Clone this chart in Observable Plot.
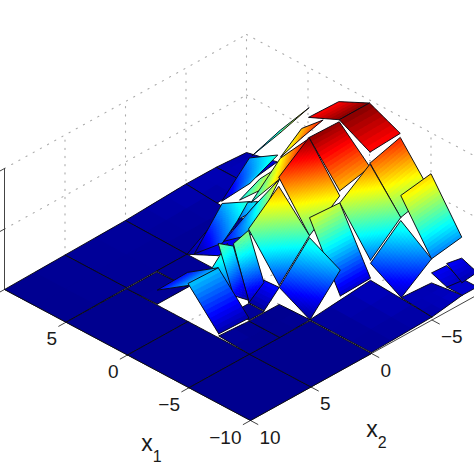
<!DOCTYPE html>
<html>
<head>
<meta charset="utf-8">
<script src="https://cdn.jsdelivr.net/npm/d3@7"></script>
<script src="https://cdn.jsdelivr.net/npm/@observablehq/plot@0.6"></script>
<style>html,body{margin:0;padding:0;background:#fff;overflow:hidden}svg{display:block;overflow:hidden}</style>
</head>
<body>
<div id="chart"></div>
<script>
// Each row: near-corner x1, near-corner x2, cell size, then z at the corners
// (x1,x2), (x1+size,x2), (x1+size,x2-size), (x1,x2-size).
const floorCells = [
  [7.5,-7.5,2.5, 5,5,3,10],
  [7.5,-5,2.5, 2,5,5,5],
  [5,0,5, 1,2,5,0],
  [5,5,5, 1,1,2,1],
  [5,10,5, 0,0,1,1],
  [2.5,5,2.5, 1,0,0,1],
  [2.5,2.5,2.5, 1,1,1,1],
  [2.5,0,2.5, 16,1,20,10],
  [0,10,5, 0,0,0,0],
  [-5,10,5, 0,0,0,0],
  [-10,10,5, 0,0,0,0],
  [-10,5,5, 0,0,0,0],
  [-10,0,5, 1,1,7,3],
  [-10,-5,2.5, 3,6,4,8],
  [-10,-7.5,1.25, 8,8,8,8],
  [-8.75,-7.5,1.25, 8,14,13,6],
  [-8.75,-8.75,1.25, 4,15,12,6],
  [-5,5,2.5, 0,2,0,0],
  [-5,2.5,2.5, 0,0,0,1],
  [-2.5,2.5,1.25, 1,1,1,1],
  [-2.5,1.25,1.25, 2,2,16,17]
];
const backSlopeCells = [
  [5,-7.75,2.35, 71,32,42,80],
  [5,-5.2,2.3, 37,4,32,50],
  [0,-7.5,2.5, 118,104,103,118],
  [-2.5,-7.5,2.5, 102,118,118,104],
  [1.85,-6.3,1.75, 96,65,82,102],
  [2.5,-0.4,2.3, 26,0,35,52],
  [2.8,-2.8,0.8, 37,26,38,44],
  [1.9,-2.9,1.68, 66,45,55,79],
  [0.53,-3.2,2.4, 85,45,73,109],
  [1.1,-1.4,2.3, 37,15,32,77]
];
const frontSlopeCells = [
  [-5,-7.5,2.5, 53,91,100,61],
  [-2.5,-5,2.5, 80,117,116,87],
  [-2.5,-2.5,2.5, 52,94,117,75],
  [-7.5,-7.5,2.5, 28,75,80,33],
  [-5,-5,2.5, 27,68,90,53],
  [-7.5,-5,2.5, 6,24,50,28],
  [-5,-2.5,2.5, 8,70,68,9],
  [-2.5,0,2.5, 19,59,85,52],
  [-5,0,2.5, 1,17,50,34],
  [-1.5,1.5,1.25, 5,56,61,17],
  [-1.3,3.05,1.25, 14,41,57,24],
  [-1,2.25,1.25, 14,58,47,1],
  [0,5,2.5, 36,15,16,37],
  [-2.5,5,2.5, 4,38,37,3]
];
const x1Ticks = [5, 0, -5, -10];
const x1TickLabels = ["5", "0", "\u22125", "\u221210"];
const x2Ticks = [10, 5, 0, -5];
const x2TickLabels = ["10", "5", "0", "\u22125"];
const zTicks = [0, 60.5, 121];
const wallTicks = [-5, 0, 5];
const jetStops = [0, 14.8, 44.4, 74, 103.6, 118.4];
const jetColors = ["#00008f", "#0000ff", "#00ffff", "#ffff00", "#ff0000", "#800000"];

const X = (x1, x2) => 250 - 12.3 * (x1 + 10) + 12.1 * (10 - x2);
const Y = (x1, x2, z) => 420 - 6.55 * (x1 + 10) - 6.7 * (10 - x2) - z;
const pt = (x1, x2, z) => ({x: X(x1, x2), y: Y(x1, x2, z)});

function cellMarks(c) {
  const [x1, x2, s, z0, z1, z2, z3] = c;
  const range = Math.max(z0, z1, z2, z3) - Math.min(z0, z1, z2, z3);
  const n = Math.min(24, Math.ceil(range / 3) + 1);
  const at = (u, v) => pt(x1 + u * s, x2 - v * s,
    z0 * (1 - u) * (1 - v) + z1 * u * (1 - v) + z2 * u * v + z3 * (1 - u) * v);
  const rows = [];
  for (let i = 0; i < n; i++) for (let j = 0; j < n; j++) {
    const u0 = i / n, u1 = Math.min(1, (i + 1.6) / n), v0 = j / n, v1 = Math.min(1, (j + 1.6) / n);
    const um = (i + 0.5) / n, vm = (j + 0.5) / n;
    const val = z0 * (1 - um) * (1 - vm) + z1 * um * (1 - vm) + z2 * um * vm + z3 * (1 - um) * vm;
    for (const [u, v] of [[u0, v0], [u1, v0], [u1, v1], [u0, v1]])
      rows.push({...at(u, v), id: i * n + j, val});
  }
  const outline = [at(0, 0), at(1, 0), at(1, 1), at(0, 1), at(0, 0)];
  return [
    Plot.line(rows, {x: "x", y: "y", z: "id", fill: "val", stroke: "none", curve: "linear-closed"}),
    Plot.line(outline, {x: "x", y: "y", stroke: "#0a0a14", strokeWidth: 0.95, strokeLinejoin: "round"})
  ];
}

// Dotted grid on the two back walls and the floor
const dotted = [];
const addDots = (a, b) => dotted.push([a, b]);
for (const z of zTicks.slice(1)) {
  addDots(pt(10, 10, z), pt(10, -10, z));
  addDots(pt(10, -10, z), pt(-10, -10, z));
}
for (const t of wallTicks) {
  addDots(pt(10, t, 0), pt(10, t, 121));
  addDots(pt(t, -10, 0), pt(t, -10, 121));
  addDots(pt(t, 10, 0), pt(t, -10, 0));
  addDots(pt(10, t, 0), pt(-10, t, 0));
}
addDots(pt(10, -10, 0), pt(10, -10, 121));
const dotRows = dotted.flatMap((p, i) => [{...p[0], id: i}, {...p[1], id: i}]);

const solid = [
  [pt(10, 10, 0), pt(10, 10, 121)],
  [pt(10, 10, 0), pt(-10, 10, 0)],
  [pt(-10, 10, 0), pt(-10, -10, 0)],
  ...zTicks.map(z => [pt(10, 10, z), pt(10, 10.6, z)]),
  ...x1Ticks.map(t => [pt(t, 10, 0), pt(t, 10.6, 0)]),
  ...x2Ticks.map(t => [pt(-10, t, 0), pt(-10.6, t, 0)])
];
const solidRows = solid.flatMap((p, i) => [{...p[0], id: i}, {...p[1], id: i}]);

const labelFont = {fontFamily: "Liberation Sans, Arial, sans-serif", fill: "#1a1a1a"};

const chart = Plot.plot({
  width: 474, height: 474, margin: 0,
  x: {domain: [0, 474], range: [0, 474], axis: null},
  y: {domain: [0, 474], range: [0, 474], axis: null},
  color: {type: "linear", domain: jetStops, range: jetColors, interpolate: "rgb", clamp: true},
  marks: [
    Plot.line(dotRows, {x: "x", y: "y", z: "id", stroke: "#ababab", strokeWidth: 1.1, strokeDasharray: "1.2 7"}),
    Plot.line(solidRows, {x: "x", y: "y", z: "id", stroke: "#444", strokeWidth: 1}),
    ...floorCells.flatMap(cellMarks),
    ...backSlopeCells.flatMap(cellMarks),
    ...frontSlopeCells.flatMap(cellMarks),
    Plot.text(x1Ticks, {x: t => X(t, 10), y: t => Y(t, 10, 0), text: (t, i) => x1TickLabels[i],
      dx: -9, dy: 17, textAnchor: "end", fontSize: 19, ...labelFont}),
    Plot.text(x2Ticks, {x: t => X(-10, t), y: t => Y(-10, t, 0), text: (t, i) => x2TickLabels[i],
      dx: 9, dy: 17, textAnchor: "start", fontSize: 19, ...labelFont}),
    Plot.text(["x1"], {x: () => X(-2.5, 10), y: () => Y(-2.5, 10, 0), text: d => d,
      dx: -17, dy: 72, textAnchor: "start", fontSize: 23, className: "axis-title", ...labelFont}),
    Plot.text(["x2"], {x: () => X(-10, 2.5), y: () => Y(-10, 2.5, 0), text: d => d,
      dx: 25, dy: 59, textAnchor: "start", fontSize: 23, className: "axis-title", ...labelFont})
  ]
});

chart.querySelectorAll(".axis-title text").forEach(t => {
  const s = t.textContent;
  t.textContent = s[0];
  const sub = document.createElementNS("http://www.w3.org/2000/svg", "tspan");
  sub.setAttribute("dy", "11");
  sub.setAttribute("font-size", "16");
  sub.textContent = s.slice(1);
  t.appendChild(sub);
});
document.getElementById("chart").appendChild(chart);
</script>
</body>
</html>
